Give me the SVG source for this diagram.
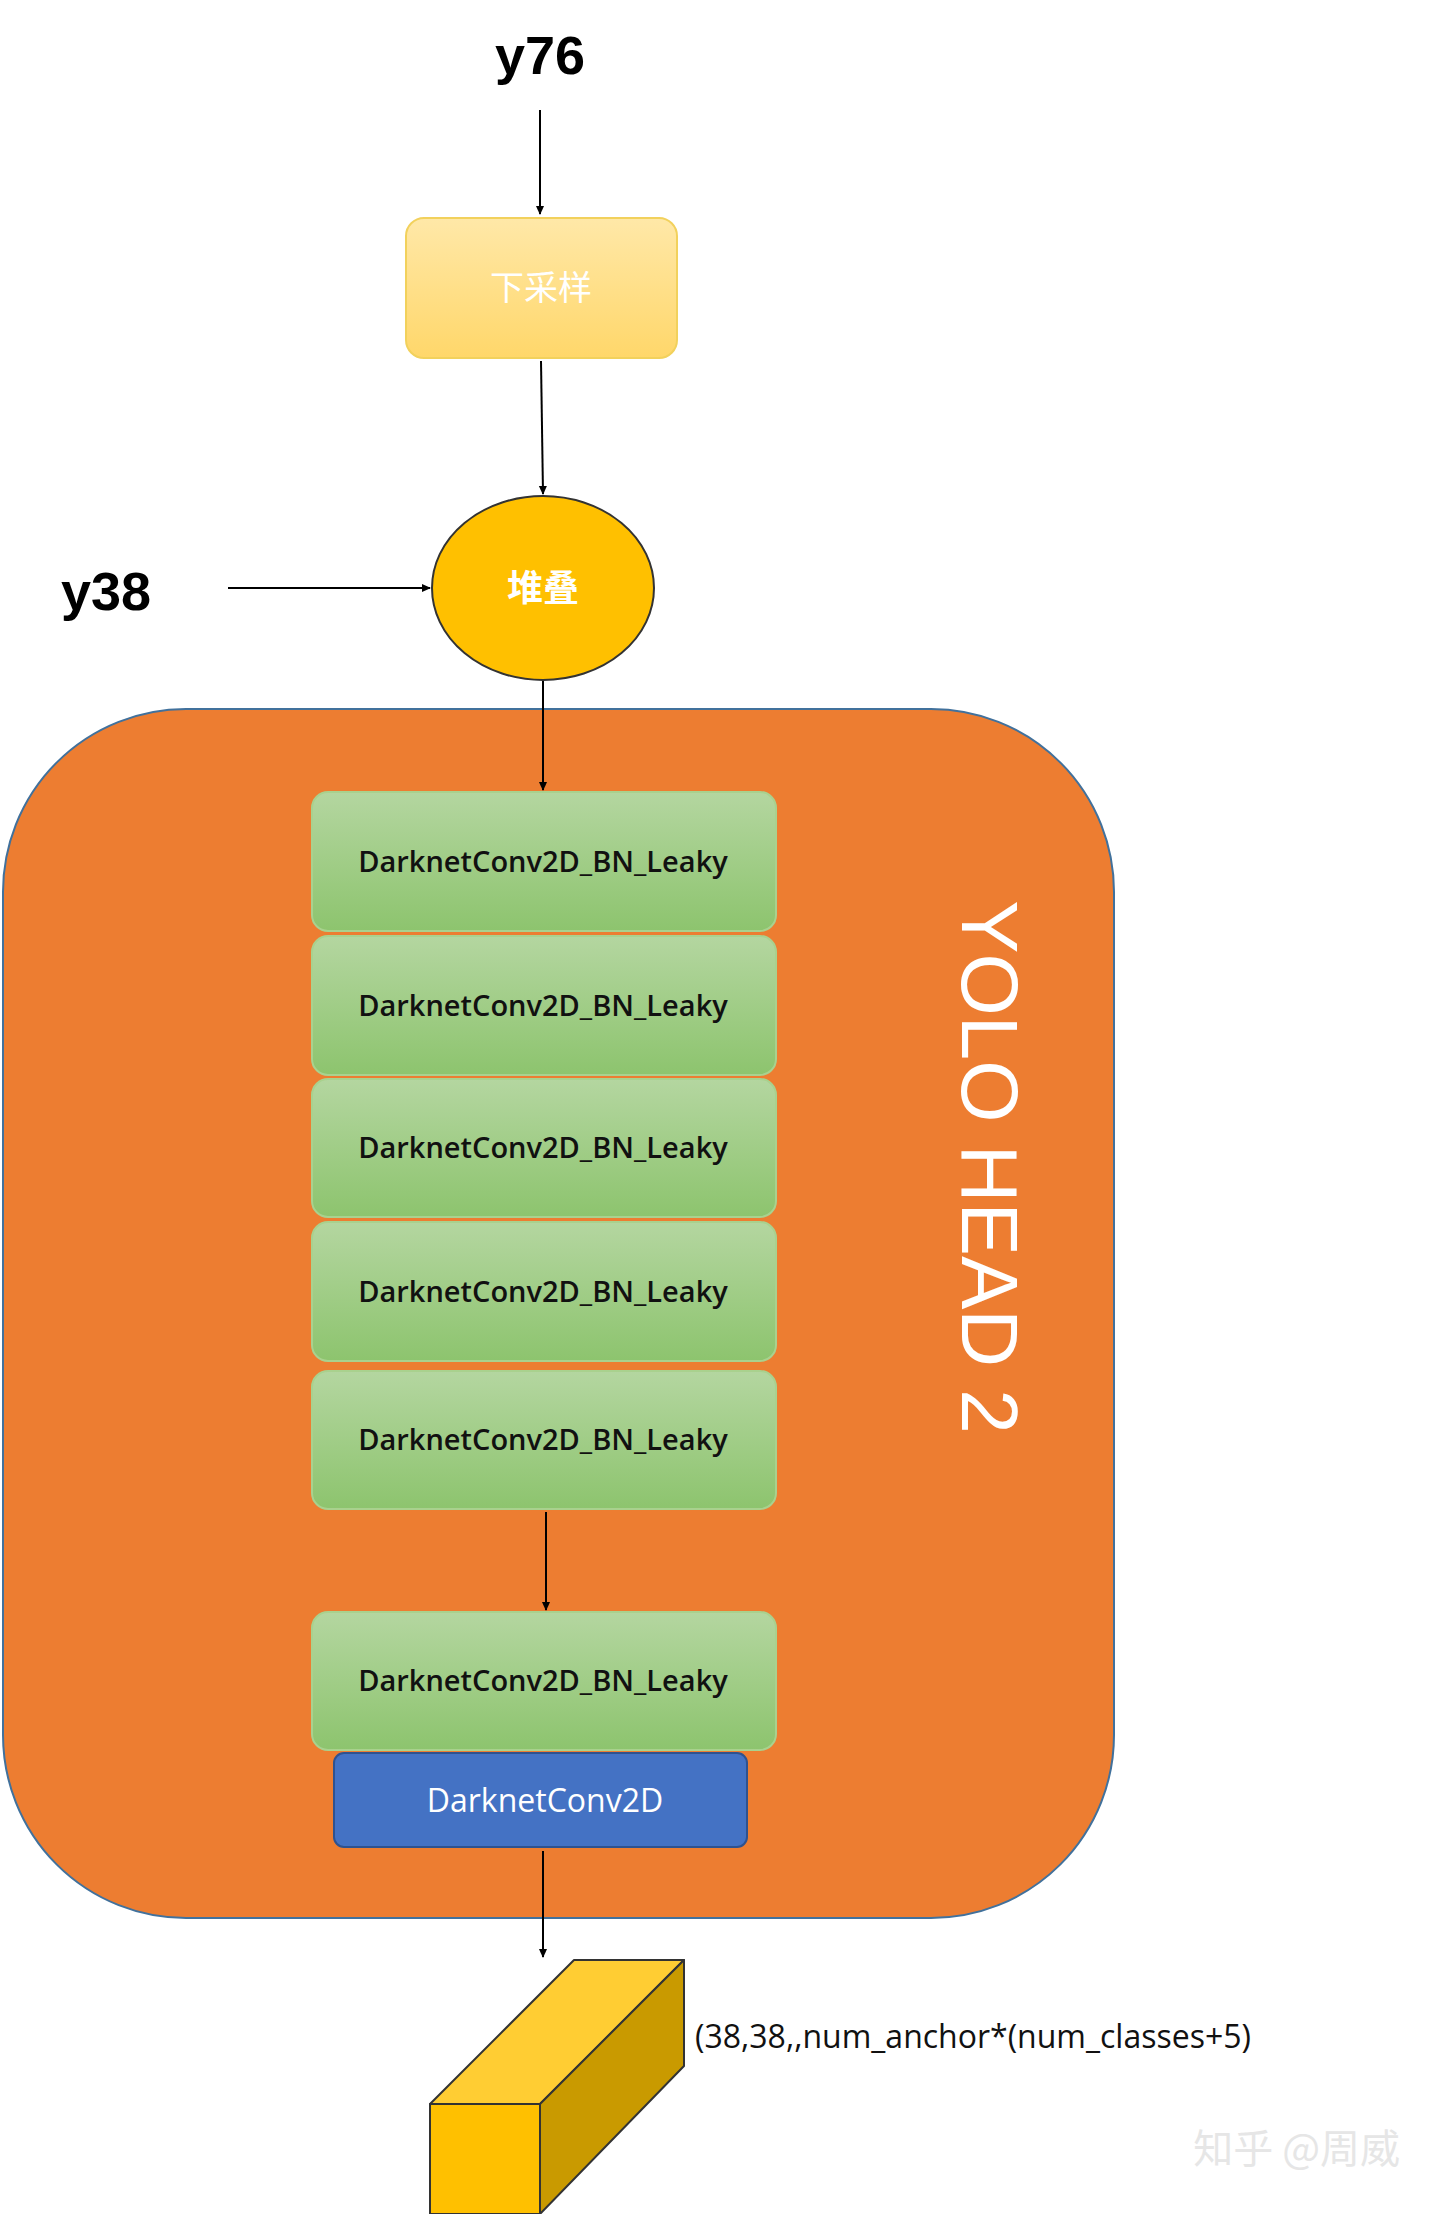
<svg xmlns="http://www.w3.org/2000/svg" width="1440" height="2214" viewBox="0 0 1440 2214">
<defs>
<linearGradient id="gy" x1="0" y1="0" x2="0" y2="1"><stop offset="0" stop-color="#FFE8A8"/><stop offset="1" stop-color="#FFD76A"/></linearGradient>
<linearGradient id="gg" x1="0" y1="0" x2="0" y2="1"><stop offset="0" stop-color="#B4D6A0"/><stop offset="1" stop-color="#8DC46E"/></linearGradient>
<marker id="ar" markerWidth="10" markerHeight="10" refX="8" refY="5" orient="auto" markerUnits="userSpaceOnUse"><path d="M0,1 L9,5 L0,9 z" fill="#000"/></marker>
<style>
.c{stroke:#000;stroke-width:2;fill:none;marker-end:url(#ar)}
.g{fill:url(#gg);stroke:#A9D18E;stroke-width:2}
.gt{font-family:"Open Sans","Liberation Sans",sans-serif;font-size:29px;font-weight:600;fill:#111;text-anchor:middle}
.big{font-family:"Liberation Sans",sans-serif;font-size:54px;font-weight:bold;fill:#000;text-anchor:middle}
</style>
</defs>
<text class="big" x="540" y="74">y76</text>
<text class="big" x="106" y="610">y38</text>
<g id="big">
<rect x="3" y="709" width="1111" height="1209" rx="183" fill="#ED7D31" stroke="#41719C" stroke-width="2"/>
<text transform="translate(962,1167) rotate(90)" font-family="Liberation Sans,sans-serif" font-size="80" fill="#fff" text-anchor="middle">YOLO HEAD 2</text>
</g>
<g id="down"><rect x="406" y="218" width="271" height="140" rx="18" fill="url(#gy)" stroke="#F2D15C" stroke-width="2"/>
<text x="541" y="300" font-family="Noto Sans CJK SC,sans-serif" font-size="34" fill="#fff" text-anchor="middle">下采样</text></g>
<g id="stack"><ellipse cx="543" cy="588" rx="111" ry="92" fill="#FFC000" stroke="#333" stroke-width="2"/>
<text x="543" y="601" font-family="Noto Sans CJK SC,sans-serif" font-size="36" font-weight="bold" fill="#fff" text-anchor="middle">堆叠</text></g>
<g id="g1"><rect class="g" x="312" y="792" width="464" height="139" rx="16"/><text class="gt" x="543" y="872">DarknetConv2D_BN_Leaky</text></g>
<g id="g2"><rect class="g" x="312" y="936" width="464" height="139" rx="16"/><text class="gt" x="543" y="1016">DarknetConv2D_BN_Leaky</text></g>
<g id="g3"><rect class="g" x="312" y="1079" width="464" height="138" rx="16"/><text class="gt" x="543" y="1158">DarknetConv2D_BN_Leaky</text></g>
<g id="g4"><rect class="g" x="312" y="1222" width="464" height="139" rx="16"/><text class="gt" x="543" y="1302">DarknetConv2D_BN_Leaky</text></g>
<g id="g5"><rect class="g" x="312" y="1371" width="464" height="138" rx="16"/><text class="gt" x="543" y="1450">DarknetConv2D_BN_Leaky</text></g>
<g id="g6"><rect class="g" x="312" y="1612" width="464" height="138" rx="16"/><text class="gt" x="543" y="1691">DarknetConv2D_BN_Leaky</text></g>
<g id="blue"><rect x="334" y="1753" width="413" height="94" rx="10" fill="#4472C4" stroke="#2F528F" stroke-width="2"/>
<text x="545" y="1812" font-family="Open Sans,Liberation Sans,sans-serif" font-size="32" fill="#fff" text-anchor="middle">DarknetConv2D</text></g>
<g id="cube" stroke="#333" stroke-width="2" stroke-linejoin="round">
<polygon points="430,2104 540,2104 684,1960 574,1960" fill="#FFCD33"/>
<polygon points="540,2104 684,1960 684,2066 540,2214" fill="#C99A00"/>
<rect x="430" y="2104" width="110" height="110" fill="#FFC000"/>
</g>
<text x="695" y="2048" font-family="Open Sans,Liberation Sans,sans-serif" font-size="32" fill="#111">(38,38,,num_anchor*(num_classes+5)</text>
<text x="1400" y="2163" font-family="Noto Sans CJK SC,sans-serif" font-size="40" fill="#e6e6e6" text-anchor="end">知乎 @周威</text>
<g id="connectors">
<path class="c" d="M540,110 L540,214"/>
<path class="c" d="M541,361 L543,494"/>
<path class="c" d="M228,588 L430,588"/>
<path class="c" d="M543,681 L543,790"/>
<path class="c" d="M546,1512 L546,1610"/>
<path class="c" d="M543,1851 L543,1957"/>
</g>
</svg>
